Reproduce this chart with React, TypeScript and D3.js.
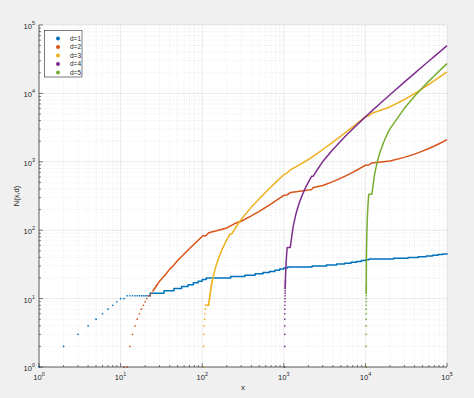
import React from 'react';
import * as d3 from 'd3';

// ---- data ----
const decadeTicks = [1, 10, 100, 1000, 10000, 100000];
const tickExponents = ['0', '1', '2', '3', '4', '5'];
const seriesNames = ['d=1', 'd=2', 'd=3', 'd=4', 'd=5'];
const seriesColors = ['#0072BD', '#D95319', '#EDB120', '#7E2F8E', '#77AC30'];

// d=1 : isolated points, then a staircase
const d1Dots: [number, number][] = [
  [1, 1], [2, 2], [3, 3], [4, 4], [5, 5], [6, 6], [7, 7], [8, 8], [9, 9], [10, 10], [11, 10],
  [12, 11], [13, 11], [14, 11], [15, 11], [16, 11], [17, 11], [18, 11], [19, 11], [20, 11], [21, 11], [22, 11],
];
const d1Steps: [number, number][] = [
  [22, 11], [23, 12], [34, 13], [45, 14], [56, 15], [67, 16], [78, 17], [89, 18], [100, 19],
  [112, 20], [223, 21], [334, 22], [445, 23], [556, 24], [667, 25], [778, 26], [889, 27], [1000, 28],
  [1112, 29], [2223, 30], [3334, 31], [4445, 32], [5556, 33], [6667, 34], [7778, 35], [8889, 36], [10000, 37],
  [11112, 38], [22223, 39], [33334, 40], [44445, 41], [55556, 42], [66667, 43], [77778, 44], [88889, 45], [100000, 46],
];

// d=2
const d2Dots: [number, number][] = [
  [11, 1], [12, 1], [13, 2], [14, 3], [15, 4], [16, 5], [17, 6], [18, 7], [19, 8], [20, 9],
  [21, 10], [22, 11], [23, 11], [24, 12], [25, 13], [26, 14], [27, 15], [28, 16],
];
const d2Line: [number, number][] = [
  [25, 13], [30, 18], [35, 22], [40, 27], [45, 31], [50, 36], [60, 45], [70, 54], [80, 63], [90, 72],
  [100, 81], [102, 83], [110, 83], [112, 84], [120, 92], [150, 98], [200, 108], [250, 125], [300, 135],
  [400, 162], [500, 189], [600, 216], [700, 243], [800, 270], [900, 297], [1000, 324],
  [1100, 328], [1200, 355], [1500, 367], [2000, 387], [2200, 395], [2300, 422], [3000, 450],
  [4000, 513], [5000, 576], [6000, 639], [7000, 702], [8000, 765], [9000, 828], [10000, 891],
  [11000, 899], [12000, 962], [20000, 1026], [30000, 1161], [40000, 1296], [50000, 1431],
  [60000, 1566], [70000, 1701], [80000, 1836], [90000, 1971], [100000, 2106],
];

// d=3
const d3Dots: [number, number][] = [
  [103, 1], [104, 2], [105, 3], [106, 4], [107, 5], [108, 6], [109, 7], [110, 8], [112, 8], [114, 8],
  [116, 8], [118, 8], [120, 8], [121, 9], [124, 10], [125, 11], [126, 12], [127, 13], [128, 14],
  [129, 15], [130, 16], [131, 17], [133, 18],
];
const d3Line: [number, number][] = [
  [120, 8], [121, 9], [130, 16], [140, 24], [150, 32], [160, 40], [170, 48], [180, 56], [190, 64],
  [200, 72], [210, 80], [220, 88], [230, 88], [250, 104], [300, 144], [400, 216], [500, 288],
  [600, 360], [700, 432], [800, 504], [900, 576], [1000, 648], [1100, 688], [1200, 760],
  [1500, 880], [2000, 1080], [3000, 1512], [4000, 1944], [5000, 2376], [6000, 2808], [7000, 3240],
  [8000, 3672], [9000, 4104], [10000, 4536], [11000, 4688], [12000, 5120], [20000, 6336],
  [30000, 8136], [40000, 9936], [50000, 11736], [60000, 13536], [70000, 15336], [80000, 17136],
  [90000, 18936], [100000, 20736],
];

// d=4
const d4Dots: [number, number][] = [
  [1024, 1], [1025, 2], [1026, 3], [1027, 4], [1028, 5], [1029, 6], [1030, 7], [1033, 8], [1035, 9],
  [1036, 10], [1037, 11], [1038, 12], [1039, 13], [1040, 14], [1043, 15], [1044, 16], [1046, 17],
  [1047, 18],
];
const d4Line: [number, number][] = [
  [1040, 14], [1050, 21], [1060, 28], [1070, 35], [1080, 42], [1090, 49], [1100, 56], [1200, 56],
  [1300, 112], [1400, 168], [1500, 224], [1600, 280], [1700, 336], [1800, 392], [1900, 448],
  [2000, 504], [2100, 560], [2200, 616], [2300, 616], [2500, 728], [3000, 1008], [4000, 1512],
  [5000, 2016], [6000, 2520], [7000, 3024], [8000, 3528], [9000, 4032], [10000, 4536],
  [11000, 5040], [12000, 5544], [15000, 7056], [20000, 9576], [30000, 14616], [40000, 19656],
  [50000, 24696], [60000, 29736], [70000, 34776], [80000, 39816], [90000, 44856], [100000, 49896],
];

// d=5
const d5Dots: [number, number][] = [
  [10235, 1], [10236, 2], [10237, 3], [10238, 4], [10239, 5], [10240, 6], [10244, 7], [10246, 8],
  [10247, 9], [10248, 10], [10249, 11], [10250, 12], [10254, 13], [10255, 14], [10257, 15],
];
const d5Line: [number, number][] = [
  [10250, 12], [10260, 18], [10270, 24], [10280, 30], [10290, 36], [10300, 42], [10400, 84],
  [10500, 126], [10600, 168], [10700, 210], [10800, 252], [10900, 294], [11000, 336], [12000, 336],
  [13000, 672], [14000, 1008], [15000, 1344], [16000, 1680], [17000, 2016], [18000, 2352],
  [19000, 2688], [20000, 3024], [30000, 6048], [40000, 9072], [50000, 12096], [60000, 15120],
  [70000, 18144], [80000, 21168], [90000, 24192], [100000, 27216],
];

const seriesDots = [d1Dots, d2Dots, d3Dots, d4Dots, d5Dots];
const seriesLines = [d1Steps, d2Line, d3Line, d4Line, d5Line];

// ---- layout ----
const W = 474;
const H = 398;
const M = { left: 39, right: 447, top: 25, bottom: 367 };
const FONT = '"Liberation Sans", Arial, Helvetica, sans-serif';
const AX = '#262626';

export default function App() {
  const x = d3.scaleLog().domain([1, 1e5]).range([M.left, M.right]);
  const y = d3.scaleLog().domain([1, 1e5]).range([M.bottom, M.top]);

  const minorVals: number[] = [];
  decadeTicks.slice(0, -1).forEach((d) => {
    for (let k = 2; k <= 9; k++) minorVals.push(d * k);
  });

  const line = d3.line<[number, number]>().x((d) => x(d[0])).y((d) => y(d[1]));
  const stepLine = d3
    .line<[number, number]>()
    .x((d) => x(d[0]))
    .y((d) => y(d[1]))
    .curve(d3.curveStepAfter);

  return (
    <div style={{ position: 'absolute', left: 0, top: 0 }}>
      <svg width={W} height={H} style={{ display: 'block', fontFamily: FONT }}>
        <defs>
          <clipPath id="plotclip">
            <rect x={M.left} y={M.top - 1} width={M.right - M.left + 1} height={M.bottom - M.top + 2} />
          </clipPath>
        </defs>
        <rect x={0} y={0} width={W} height={H} fill="#f0f0f0" />
        <rect x={M.left} y={M.top} width={M.right - M.left} height={M.bottom - M.top} fill="#ffffff" />

        {/* minor grid */}
        <g stroke={AX} strokeOpacity={0.14} strokeWidth={0.6} strokeDasharray="1,1.5">
          {minorVals.map((v) => (
            <line key={'mx' + v} x1={x(v)} x2={x(v)} y1={M.top} y2={M.bottom} />
          ))}
          {minorVals.map((v) => (
            <line key={'my' + v} x1={M.left} x2={M.right} y1={y(v)} y2={y(v)} />
          ))}
        </g>
        {/* major grid */}
        <g stroke={AX} strokeOpacity={0.13} strokeWidth={0.7}>
          {decadeTicks.map((v) => (
            <line key={'gx' + v} x1={x(v)} x2={x(v)} y1={M.top} y2={M.bottom} />
          ))}
          {decadeTicks.map((v) => (
            <line key={'gy' + v} x1={M.left} x2={M.right} y1={y(v)} y2={y(v)} />
          ))}
        </g>

        {/* series */}
        {seriesLines.map((pts, i) => (
          <g key={'s' + i}>
            <path
              d={(i === 0 ? stepLine(pts) : line(pts)) || ''}
              fill="none"
              stroke={seriesColors[i]}
              strokeWidth={1.5}
              strokeLinejoin="round"
              clipPath="url(#plotclip)"
            />
            {seriesDots[i].map((p, j) => (
              <circle key={j} cx={x(p[0])} cy={y(p[1])} r={0.85} fill={seriesColors[i]} />
            ))}
          </g>
        ))}

        {/* axes */}
        <line x1={M.left} x2={M.right} y1={M.bottom} y2={M.bottom} stroke={AX} strokeWidth={0.7} />
        <line x1={M.left} x2={M.left} y1={M.top} y2={M.bottom} stroke={AX} strokeWidth={0.7} />
        <g stroke={AX} strokeWidth={0.6}>
          {decadeTicks.map((v) => (
            <line key={'tx' + v} x1={x(v)} x2={x(v)} y1={M.bottom} y2={M.bottom - 4} />
          ))}
          {minorVals.map((v) => (
            <line key={'tmx' + v} x1={x(v)} x2={x(v)} y1={M.bottom} y2={M.bottom - 2} />
          ))}
          {decadeTicks.map((v) => (
            <line key={'ty' + v} x1={M.left} x2={M.left + 4} y1={y(v)} y2={y(v)} />
          ))}
          {minorVals.map((v) => (
            <line key={'tmy' + v} x1={M.left} x2={M.left + 2} y1={y(v)} y2={y(v)} />
          ))}
        </g>

        {/* tick labels */}
        <g fill={AX} fontSize={7.6}>
          {decadeTicks.map((v, i) => (
            <text key={'lx' + v} x={x(v)} y={M.bottom + 12.5} textAnchor="middle">
              <tspan>10</tspan>
              <tspan dy={-4} fontSize={5.4}>{tickExponents[i]}</tspan>
            </text>
          ))}
          {decadeTicks.map((v, i) => (
            <text key={'ly' + v} x={M.left - 4} y={y(v) + 4} textAnchor="end">
              <tspan>10</tspan>
              <tspan dy={-4} fontSize={5.4}>{tickExponents[i]}</tspan>
            </text>
          ))}
        </g>

        {/* axis labels */}
        <text x={(M.left + M.right) / 2} y={389.5} textAnchor="middle" fontSize={7.8} fill={AX}>
          x
        </text>
        <text
          transform={`translate(19, ${(M.top + M.bottom) / 2}) rotate(-90)`}
          textAnchor="middle"
          fontSize={7.6}
          fill={AX}
        >
          N(x,d)
        </text>

        {/* legend */}
        <rect x={44.5} y={30.5} width={37.5} height={46.5} fill="#ffffff" stroke={AX} strokeWidth={0.6} />
        {seriesNames.map((name, i) => (
          <g key={'lg' + i}>
            <circle cx={58} cy={38.4 + i * 8.5} r={2} fill={seriesColors[i]} />
            <text x={70} y={38.4 + i * 8.5 + 2.3} fontSize={6.5} fill={AX}>
              {name}
            </text>
          </g>
        ))}
      </svg>
    </div>
  );
}
